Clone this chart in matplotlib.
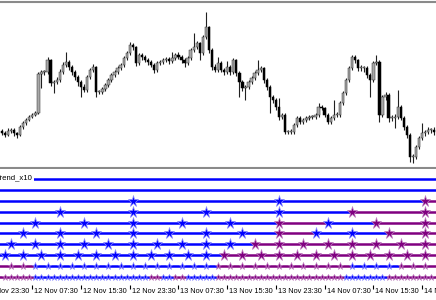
import matplotlib
matplotlib.use("Agg")
import matplotlib.pyplot as plt
import matplotlib.transforms as mtransforms
from matplotlib.collections import LineCollection
from matplotlib.patches import Rectangle
import numpy as np
import pandas as pd

plt.rcParams["font.family"] = ["Liberation Sans Narrow", "Liberation Sans", "DejaVu Sans"]

# M30 chart, first visible bar
first_bar = "2024-11-12 02:30"

# prices (no price scale shown, arbitrary points)
opens = [39, 37, 35, 39, 40, 37, 35, 43, 47, 50,
         53, 55, 57, 96, 98, 98, 110, 87, 88, 90,
         98, 105, 108, 103, 98, 93, 88, 83, 80, 93,
         100, 103, 78, 78, 81, 85, 90, 95, 98, 102,
         105, 112, 117, 125, 123, 107, 115, 113, 110, 108,
         105, 100, 107, 108, 110, 111, 109, 112, 115, 113,
         110, 107, 112, 120, 123, 127, 117, 133, 143, 120,
         103, 100, 107, 100, 98, 103, 98, 110, 97, 88,
         82, 83, 88, 92, 97, 100, 102, 90, 83, 73,
         70, 63, 53, 55, 38, 38, 38, 45, 52, 48,
         50, 52, 53, 53, 55, 63, 62, 55, 48, 52,
         55, 55, 67, 77, 90, 102, 113, 110, 102, 102,
         102, 95, 90, 107, 108, 55, 73, 75, 52, 52,
         53, 63, 52, 43, 35, 13, 13, 23, 32, 37,
         38, 40, 40]
closes = [37, 35, 39, 40, 37, 35, 43, 47, 50, 53,
          55, 57, 96, 98, 98, 110, 87, 88, 90, 98,
          105, 108, 103, 98, 93, 88, 83, 80, 93, 100,
          103, 78, 78, 81, 85, 90, 95, 98, 102, 105,
          112, 117, 125, 123, 107, 115, 113, 110, 108, 105,
          100, 107, 108, 110, 111, 109, 112, 115, 113, 110,
          107, 112, 120, 123, 127, 117, 133, 143, 120, 103,
          100, 107, 100, 98, 103, 98, 110, 97, 88, 82,
          83, 88, 92, 97, 100, 102, 90, 83, 73, 70,
          63, 53, 55, 38, 38, 38, 45, 52, 48, 50,
          52, 53, 53, 55, 63, 62, 55, 48, 52, 55,
          55, 67, 77, 90, 102, 113, 110, 102, 102, 102,
          95, 90, 107, 108, 55, 73, 75, 52, 52, 53,
          63, 52, 43, 35, 13, 13, 23, 32, 37, 38,
          40, 40, 38]
highs = [41, 39, 42, 42, 42, 38, 45, 49, 52, 55,
         57, 59, 98, 100, 100, 113, 111, 90, 93, 101,
         108, 118, 110, 105, 100, 95, 90, 86, 95, 102,
         106, 104, 80, 83, 87, 92, 97, 100, 104, 107,
         114, 119, 128, 127, 124, 117, 117, 115, 112, 110,
         107, 109, 110, 112, 113, 113, 118, 117, 118, 115,
         112, 114, 122, 137, 129, 128, 135, 158, 144, 122,
         106, 113, 109, 102, 109, 105, 112, 111, 99, 90,
         85, 90, 94, 99, 110, 104, 103, 92, 85, 75,
         72, 72, 57, 57, 40, 41, 47, 54, 54, 52,
         54, 55, 55, 57, 67, 65, 63, 57, 54, 70,
         58, 69, 79, 92, 104, 115, 115, 111, 105, 104,
         104, 97, 109, 115, 110, 75, 78, 77, 55, 56,
         80, 65, 54, 45, 37, 16, 25, 34, 47, 40,
         43, 42, 43]
lows = [35, 33, 34, 37, 34, 32, 34, 41, 45, 49,
        52, 54, 56, 82, 95, 96, 84, 77, 86, 88,
        96, 103, 100, 95, 90, 84, 73, 78, 78, 91,
        98, 73, 76, 76, 79, 83, 88, 93, 96, 100,
        103, 110, 115, 120, 104, 105, 110, 108, 105, 103,
        97, 98, 105, 106, 108, 106, 107, 110, 111, 107,
        103, 105, 110, 118, 121, 110, 115, 131, 117, 100,
        98, 98, 98, 95, 96, 95, 96, 94, 73, 79,
        70, 81, 86, 90, 95, 98, 87, 80, 57, 67,
        60, 50, 51, 36, 36, 36, 36, 43, 46, 46,
        48, 50, 51, 51, 53, 60, 53, 46, 46, 50,
        53, 53, 65, 75, 88, 100, 107, 99, 99, 98,
        92, 73, 88, 105, 48, 53, 70, 48, 49, 42,
        51, 50, 40, 32, 8, 7, 11, 21, 30, 34,
        36, 37, 35]

# trend of each higher timeframe bar (1 up, -1 down), top row first
# (hours per bar, direction of every period that touches the view)
trend_rows = [
    (None, [1]),
    (None, [1]),
    (24, [1, 1, 1, -1]),
    (12, [1, 1, 1, 1, 1, -1, -1]),
    (8, [1, 1, 1, 1, 1, 1, -1, 1, -1, -1]),
    (6, [1, 1, 1, 1, 1, 1, 1, 1, -1, 1, 1, -1, -1]),
    (4, [1, 1, 1, 1, 1, 1, 1, 1, 1, 1, 1, -1, -1, -1, -1, -1, -1, -1, -1]),
    (3, [1, 1, 1, 1, 1, 1, 1, 1, 1, 1, 1, 1, 1,
         -1, -1, -1, -1, -1, -1, -1, -1, -1, -1, -1, -1]),
    (2, [-1, -1, -1, 1, 1, 1, 1, 1, 1, 1, 1, 1, 1, 1, 1, 1, 1, 1,
         -1, -1, -1, -1, -1, -1, -1, -1, -1, -1, -1, 1, 1, 1, 1, -1, -1, -1]),
    (1, [-1, -1, -1, -1, -1, -1,
         1, 1, 1, 1, 1, 1, 1, 1, 1, 1, 1, 1, 1, 1, 1, 1, 1, 1, 1,
         -1, -1, 1, 1, -1, -1, 1, 1, 1, 1, 1,
         -1, -1, -1, -1, -1, -1, -1, -1, -1, -1, -1, -1, -1, -1, -1, -1, -1, -1, -1, -1, -1,
         1, 1, 1, 1, 1, 1, 1,
         -1, -1, -1, -1, -1, -1, -1, -1]),
]
indicator_name = "Trend_x10"
first_time_label = "2024-11-11 23:30"

UP, DN = "#0000ff", "#800080"
UP_EDGE, DN_EDGE = "#8c8cff", "#c080c0"

W, H = 436, 300
fig = plt.figure(figsize=(W / 100, H / 100), dpi=100)
fig.patch.set_facecolor("white")

ax = fig.add_axes([0, 1 - 168 / H, 1, 166.5 / H])
axb = fig.add_axes([0, 1 - 285 / H, 1, 116 / H])

times = pd.date_range(first_bar, periods=len(closes), freq="30min")
idx = np.arange(len(closes))
xlim = (-0.61, 142.57)

# --- price panel
ax.vlines(idx, lows, highs, color="#202020", lw=0.8, zorder=1)
for i in idx:
    o, c = opens[i], closes[i]
    bot, h = min(o, c), max(abs(c - o), 0.6)
    if c >= o:
        ax.add_patch(Rectangle((i - 0.38, bot), 0.76, h, facecolor="#a8a8a8",
                               edgecolor="#303030", lw=0.35, zorder=2))
    else:
        ax.add_patch(Rectangle((i - 0.38, bot), 0.76, h, facecolor="black",
                               edgecolor="black", lw=0.35, zorder=2))
ax.set_xlim(*xlim)
ax.set_ylim(2, 168.5)
ax.set_xticks([])
ax.set_yticks([])
for s in ("left", "right"):
    ax.spines[s].set_visible(False)
for s in ("top", "bottom"):
    ax.spines[s].set_color("#8a8a8a")
    ax.spines[s].set_linewidth(1.5)

# --- trend panel
for r, (hours, dirs) in enumerate(trend_rows):
    level = 10 - r
    if hours is None:
        per = np.zeros(len(idx), dtype=int)
        starts = None
    else:
        starts = times.floor(f"{hours}h")
        uniq = np.unique(starts)
        per = np.searchsorted(uniq, starts)
    d = np.array(dirs)[per]
    # line, one segment per run of equal direction
    cuts = np.flatnonzero(np.diff(d)) + 1
    bounds = np.concatenate([[0], cuts, [len(idx)]])
    segs, cols = [], []
    for a, b in zip(bounds[:-1], bounds[1:]):
        x0 = -1 if a == 0 else a - 0.5
        x1 = len(idx) + 1 if b == len(idx) else b - 0.5
        segs.append([(x0, level), (x1, level)])
        cols.append(UP if d[a] > 0 else DN)
    axb.add_collection(LineCollection(segs, colors=cols, linewidths=1.8,
                                      capstyle="butt", zorder=2))
    if starts is not None:
        m = np.asarray(times == starts)
        ms = 8.2 if hours >= 3 else (5.2 if hours == 2 else 4.5)
        for i in idx[m]:
            up = d[i] > 0
            axb.plot(i, level, marker="*", ms=ms, color=UP if up else DN,
                     mec=UP_EDGE if up else DN_EDGE, mew=0.5, zorder=3)

axb.set_xlim(*xlim)
axb.set_ylim(0.23, 10.95)
axb.set_yticks([])
for s in axb.spines.values():
    s.set_visible(False)

tick_times = pd.date_range(first_time_label, periods=10, freq="8h")
tick_pos = np.asarray((tick_times - times[0]) / pd.Timedelta("30min"))
vis = (tick_pos >= xlim[0]) & (tick_pos <= xlim[1])
axb.set_xticks(tick_pos[vis])
axb.tick_params(axis="x", length=3, width=0.8, color="black", labelbottom=False)
trans = mtransforms.blended_transform_factory(axb.transData, axb.transAxes) + \
    mtransforms.ScaledTranslation(2 / 100, -6.5 / 100, fig.dpi_scale_trans)
for p, t in zip(tick_pos, tick_times):
    axb.text(p, 0, t.strftime("%d %b %H:%M"), transform=trans, ha="left",
             va="center", fontsize=5.3, color="black", clip_on=False)

fig.text(-4.5 / W, 1 - 178 / H, indicator_name, ha="left", va="center", fontsize=5.6,
         color="black", zorder=5,
         bbox=dict(boxstyle="square,pad=0.2", fc="white", ec="none"))

fig.savefig("out.png", dpi=100)
